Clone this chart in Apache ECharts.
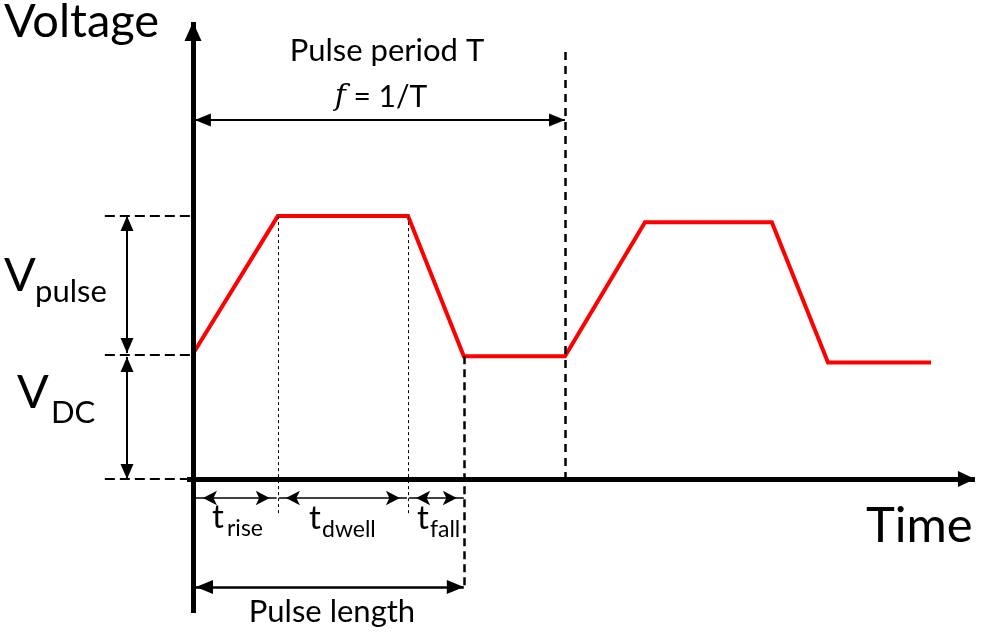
<!DOCTYPE html>
<html>
<head>
<meta charset="utf-8">
<script src="https://cdn.jsdelivr.net/npm/echarts@6/dist/echarts.min.js"></script>
<style>
html,body{margin:0;padding:0;background:#fff;}
#c{width:984px;height:635px;}
</style>
</head>
<body>
<div id="c"></div>
<script>
// ---- Data (time in arbitrary units, period T = 10; voltage in units of V_DC) ----
const traceTime = [0, 2.28, 5.78, 7.28, 10, 12.15, 15.56, 17.07, 19.84];
const traceVolt = [1.01, 2.12, 2.12, 0.99, 0.99, 2.07, 2.07, 0.94, 0.94];
const tRiseEnd = 2.28, tDwellEnd = 5.78, tFallEnd = 7.28, period = 10;
const vDC = 1.0, vTop = 2.12;

// ---- Layout (axis ranges chosen so the drawing fills the canvas) ----
const PX_T = 37.2, PX_V = 124;
const X_MIN = -193 / PX_T, X_MAX = 791 / PX_T;
const Y_MIN = -156 / PX_V, Y_MAX = 479 / PX_V;
const L = {
  yAxisBot: -1.081, yAxisTip: 3.685, xAxisLeft: -0.161, xAxisTip: 21.02,
  dimX: -1.774, dashLeft: -2.37, dashRight: -0.08,
  periodRow: 2.895, periodTop: 3.444, tRow: -0.153, thinBot: -0.29,
  lenRow: -0.871, boldBot: -0.895, gapV: 0.016, gapT: 0.03
};

function pt(t, v, sym) {
  const o = { coord: [t, v] };
  if (sym) { o.symbol = sym.type; o.symbolSize = sym.size; o.symbolOffset = [0, '50%']; }
  else { o.symbol = 'none'; }
  return o;
}
function seg(t1, v1, t2, v2, style, s1, s2) {
  const a = pt(t1, v1, s1), b = pt(t2, v2, s2);
  a.lineStyle = style; b.lineStyle = style;
  return [a, b];
}
const K = '#000';
const axisStyle = { color: K, width: 5, type: 'solid' };
const dimStyle = { color: K, width: 2, type: 'solid' };
const tStyle = { color: K, width: 1.5, type: 'solid' };
const triS = { type: 'triangle', size: [13, 15] };
const arrS = { type: 'arrow', size: [11, 14] };

const lines = [
  // axes
  seg(0, L.yAxisBot, 0, L.yAxisTip, axisStyle, null, { type: 'triangle', size: [17, 19] }),
  seg(L.xAxisLeft, 0, L.xAxisTip, 0, axisStyle, null, { type: 'triangle', size: [16, 17] }),
  // left dashed reference levels
  seg(L.dashLeft, vTop, L.dashRight, vTop, { color: K, width: 2, type: [10, 5] }),
  seg(L.dashLeft, vDC, L.dashRight, vDC, { color: K, width: 2, type: [10, 5] }),
  seg(L.dashLeft, 0, L.dashRight, 0, { color: K, width: 2, type: [10, 5] }),
  // V pulse & V DC dimension arrows
  seg(L.dimX, vTop, L.dimX, vDC + L.gapV, dimStyle, triS, triS),
  seg(L.dimX, vDC - L.gapV, L.dimX, 0, dimStyle, triS, triS),
  // period
  seg(period, L.periodTop, period, 0, { color: K, width: 2.5, type: [8, 6] }),
  seg(0.05, L.periodRow, period, L.periodRow, dimStyle, { type: 'triangle', size: [13, 16] }, { type: 'triangle', size: [13, 16] }),
  // thin guides
  seg(tRiseEnd, vTop, tRiseEnd, L.thinBot, { color: K, width: 1, type: [3, 3] }),
  seg(tDwellEnd, vTop, tDwellEnd, L.thinBot, { color: K, width: 1, type: [3, 3] }),
  seg(tFallEnd, 0.99, tFallEnd, L.boldBot, { color: K, width: 2.5, type: [8, 5] }),
  // t arrows
  seg(0.08, L.tRow, tRiseEnd - L.gapT, L.tRow, tStyle, arrS, arrS),
  seg(tRiseEnd + L.gapT, L.tRow, tDwellEnd - L.gapT, L.tRow, tStyle, arrS, arrS),
  seg(tDwellEnd + L.gapT, L.tRow, tFallEnd, L.tRow, tStyle, arrS, arrS),
  // pulse length
  seg(0.08, L.lenRow, tFallEnd, L.lenRow, { color: K, width: 2.5, type: 'solid' }, { type: 'triangle', size: [14, 17] }, { type: 'triangle', size: [14, 17] })
];

const F = 'Lato, "Open Sans", sans-serif';
function txt(x, y, text, size, align) {
  return {
    type: 'text', x: x, y: y, silent: true,
    style: { text: text, font: size + 'px ' + F, fill: '#000', align: align || 'left', verticalAlign: 'middle' }
  };
}

const chart = echarts.init(document.getElementById('c'), null, { renderer: 'canvas' });
chart.setOption({
  animation: false,
  backgroundColor: '#fff',
  grid: { left: 0, right: 0, top: 0, bottom: 0, containLabel: false },
  xAxis: { type: 'value', min: X_MIN, max: X_MAX, show: false },
  yAxis: { type: 'value', min: Y_MIN, max: Y_MAX, show: false },
  series: [
    {
      type: 'line', name: 'Voltage',
      data: traceTime.map((t, i) => [t, traceVolt[i]]),
      showSymbol: false, symbol: 'none', silent: true,
      lineStyle: { color: '#ff0000', width: 4, join: 'miter' },
      z: 2
    },
    {
      type: 'line', data: [], silent: true, z: 3,
      markLine: {
        silent: true, animation: false,
        label: { show: false },
        emphasis: { disabled: true },
        data: lines
      }
    }
  ],
  graphic: [
    txt(4, 22, 'Voltage', 47),
    txt(387, 51, 'Pulse period T', 31, 'center'),
    {
      type: 'text', x: 381, y: 97, silent: true,
      style: {
        text: '{i|f} = 1/T', align: 'center', verticalAlign: 'middle', fill: '#000',
        font: '30px ' + F,
        rich: { i: { fontStyle: 'italic', fontFamily: 'DejaVu Serif', fontSize: 30 } }
      }
    },
    txt(4, 276, 'V', 47),
    txt(35, 292, 'pulse', 31),
    txt(17, 393, 'V', 47),
    txt(51, 413, 'DC', 31),
    txt(866, 526, 'Time', 49),
    txt(212, 517, 't', 33),
    txt(227, 529, 'rise', 23),
    txt(309, 518, 't', 33),
    txt(322, 530, 'dwell', 23),
    txt(417, 518, 't', 33),
    txt(430, 530, 'fall', 23),
    txt(332, 612, 'Pulse length', 31, 'center')
  ]
});
</script>
</body>
</html>
